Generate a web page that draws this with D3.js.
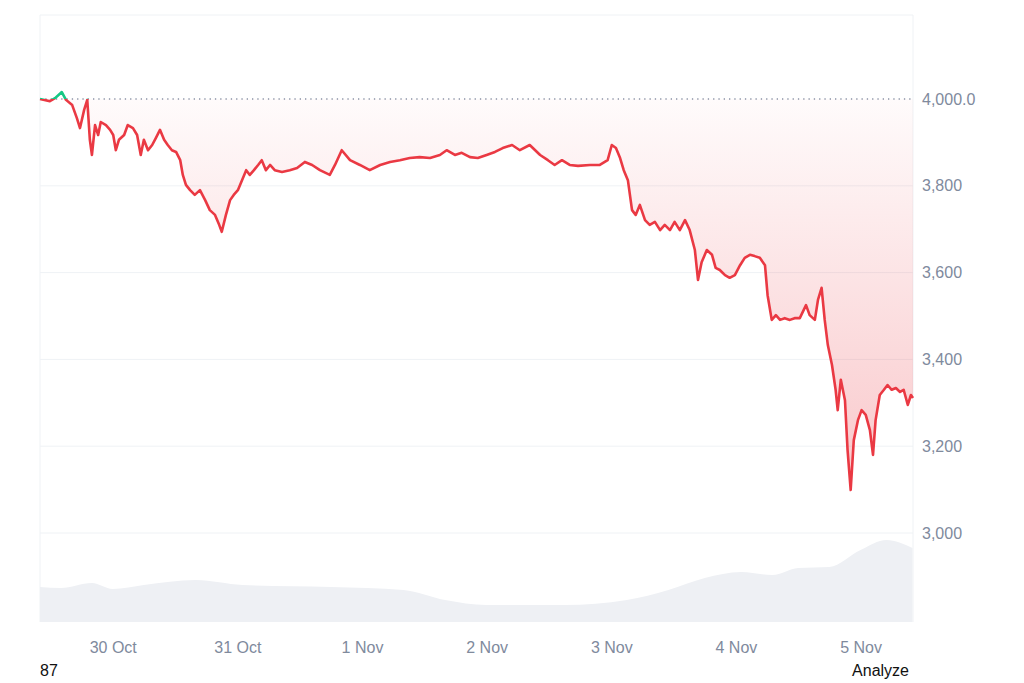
<!DOCTYPE html>
<html>
<head>
<meta charset="utf-8">
<script src="https://cdn.jsdelivr.net/npm/d3@7"></script>
<style>
  body { margin: 0; background: #fff; font-family: "Liberation Sans", Arial, sans-serif; }
</style>
</head>
<body>
<svg id="chart"></svg>
<script>
// hours since 29 Oct 10:00
const hours = [0,1.9,2.9,4.2,5.0,6.2,7.1,7.7,8.5,9.1,9.6,10.0,10.6,11.2,11.7,12.7,13.5,14.1,14.6,15.2,16.2,16.9,17.9,18.7,19.4,20.0,20.8,21.6,22.3,23.1,23.9,24.6,25.4,26.2,27.0,27.5,28.1,28.9,29.8,30.8,31.8,32.7,33.7,34.5,35.0,35.8,36.6,37.3,38.1,38.9,39.7,40.4,41.2,42.0,42.7,43.5,44.3,45.2,46.6,48.1,49.5,51.0,52.4,53.9,55.8,56.8,58.1,59.7,61.6,63.5,65.5,67.4,69.3,71.2,73.1,75.1,77.0,78.3,79.9,81.2,82.8,84.3,86.0,87.6,89.1,90.9,92.4,94.3,96.3,97.8,99.1,100.5,102.0,103.6,105.9,107.8,109.3,110.1,110.9,111.7,112.4,113.2,114.0,114.7,115.5,116.5,117.4,118.4,119.4,120.3,121.3,122.2,123.2,124.2,125.1,126.1,126.7,127.4,128.4,129.4,130.1,130.9,131.9,132.8,133.8,134.8,135.7,136.7,137.6,138.6,139.6,140.1,140.9,141.7,142.5,143.4,144.4,145.3,146.3,147.5,148.2,149.2,149.8,150.5,151.1,151.7,152.5,153.2,153.6,154.2,155.0,155.5,156.1,156.7,157.5,158.2,159.0,159.8,160.4,160.9,161.7,162.5,163.2,164.0,164.8,165.6,166.3,167.1,167.7,168.1];
const prices = [4000,3995,4002,4016,3998,3986,3956,3933,3975,3998,3906,3871,3940,3917,3947,3940,3929,3917,3882,3906,3917,3940,3933,3917,3871,3906,3882,3894,3910,3929,3906,3894,3882,3878,3859,3825,3802,3790,3779,3790,3767,3744,3733,3710,3694,3733,3767,3779,3790,3813,3836,3825,3836,3848,3859,3836,3848,3836,3832,3836,3841,3855,3848,3836,3825,3848,3882,3859,3848,3836,3848,3855,3859,3864,3866,3864,3871,3882,3871,3876,3866,3864,3871,3878,3887,3894,3882,3894,3871,3859,3848,3859,3848,3846,3848,3848,3859,3894,3887,3864,3836,3813,3744,3733,3756,3721,3710,3717,3698,3710,3698,3717,3698,3721,3698,3652,3583,3624,3652,3641,3611,3606,3594,3588,3594,3617,3634,3641,3638,3634,3617,3548,3491,3502,3491,3495,3491,3495,3495,3525,3502,3491,3537,3565,3491,3433,3387,3330,3283,3353,3306,3191,3099,3214,3260,3283,3272,3237,3180,3260,3318,3330,3341,3330,3334,3325,3330,3295,3318,3311];
const volHours = [0,4,10,14,20,30,39,56,70,78,86,101,113,121,128,135,141,146,152,158,163,168];
const volumes = [35,34,39,33,37,42,37,35,32,22,17,17,22,32,44,50,47,54,55,72,82,74];
const yTicks = [3000,3200,3400,3600,3800,4000];
const baseline = 4000;

const W = 1024, H = 683;
const L = 40, R = 913, T = 15, B = 622;
const start = new Date(2024, 9, 29, 10);
const toDate = h => new Date(start.getTime() + h * 3600e3);
const font = '"Liberation Sans", Arial, sans-serif';

const svg = d3.select('#chart').attr('width', W).attr('height', H);

const x = d3.scaleTime().domain([start, toDate(168.1)]).range([L, R]);
const y = d3.scaleLinear().domain([3000, 4000]).range([533, 99]);
const yv = d3.scaleLinear().domain([0, 100]).range([B, B - 100]);

// grid
svg.append('g').selectAll('line').data(yTicks.filter(d => d !== baseline)).join('line')
  .attr('x1', L).attr('x2', R).attr('y1', d => y(d)).attr('y2', d => y(d))
  .attr('stroke', '#eff2f5');
svg.append('line').attr('x1', L).attr('x2', R).attr('y1', T).attr('y2', T).attr('stroke', '#eff2f5');
svg.append('line').attr('x1', L).attr('x2', L).attr('y1', T).attr('y2', B).attr('stroke', '#eff2f5');
svg.append('line').attr('x1', R).attr('x2', R).attr('y1', T).attr('y2', B).attr('stroke', '#eff2f5');

// volume
const vdata = volHours.map((h, i) => ({ t: toDate(h), v: volumes[i] }));
svg.append('path').datum(vdata)
  .attr('fill', '#eef0f4')
  .attr('d', d3.area().x(d => x(d.t)).y0(B).y1(d => yv(d.v)).curve(d3.curveMonotoneX));

const data = hours.map((h, i) => ({ t: toDate(h), p: prices[i] }));

// fill gradient between price and baseline
const defs = svg.append('defs');
const grad = defs.append('linearGradient').attr('id', 'redfill')
  .attr('gradientUnits', 'userSpaceOnUse').attr('x1', 0).attr('x2', 0)
  .attr('y1', y(4000)).attr('y2', y(3100));
grad.append('stop').attr('offset', '0%').attr('stop-color', '#ea3943').attr('stop-opacity', 0.02);
grad.append('stop').attr('offset', '100%').attr('stop-color', '#ea3943').attr('stop-opacity', 0.28);
svg.append('path').datum(data)
  .attr('fill', 'url(#redfill)')
  .attr('d', d3.area().x(d => x(d.t)).y0(y(baseline)).y1(d => y(Math.min(d.p, baseline))));

// baseline dotted
svg.append('line').attr('x1', L).attr('x2', R).attr('y1', y(baseline)).attr('y2', y(baseline))
  .attr('stroke', '#8a93a6').attr('stroke-width', 1.3).attr('stroke-dasharray', '1.3,4');

// price line, red below baseline, green above
defs.append('clipPath').attr('id', 'below').append('rect')
  .attr('x', 0).attr('y', y(baseline)).attr('width', W).attr('height', H);
defs.append('clipPath').attr('id', 'above').append('rect')
  .attr('x', 0).attr('y', 0).attr('width', W).attr('height', y(baseline));
const line = d3.line().x(d => x(d.t)).y(d => y(d.p));
svg.append('path').datum(data).attr('d', line).attr('fill', 'none')
  .attr('stroke', '#ea3943').attr('stroke-width', 2.6).attr('stroke-linejoin', 'round')
  .attr('clip-path', 'url(#below)');
svg.append('path').datum(data).attr('d', line).attr('fill', 'none')
  .attr('stroke', '#16c784').attr('stroke-width', 2.6).attr('stroke-linejoin', 'round')
  .attr('clip-path', 'url(#above)');

// y axis
const yAxis = svg.append('g').attr('transform', `translate(${R},0)`)
  .call(d3.axisRight(y).tickValues(yTicks).tickSize(0).tickPadding(9)
    .tickFormat(d => d === 4000 ? d3.format(',.1f')(d) : d3.format(',')(d)));
yAxis.select('.domain').remove();
yAxis.selectAll('text').attr('fill', '#808a9d').style('font-size', '16px').style('font-family', font);

// x axis
const days = d3.timeDay.range(d3.timeDay.ceil(start), toDate(168.1));
const xAxis = svg.append('g').attr('transform', `translate(0,${B})`)
  .call(d3.axisBottom(x).tickValues(days).tickSize(0).tickPadding(20).tickFormat(d3.timeFormat('%-d %b')));
xAxis.select('.domain').remove();
xAxis.selectAll('text').attr('fill', '#808a9d').style('font-size', '16px').style('font-family', font);

svg.append('text').attr('x', 40).attr('y', 676).text('87')
  .attr('fill', '#111').style('font-size', '16px').style('font-family', font);
svg.append('text').attr('x', 909).attr('y', 676).attr('text-anchor', 'end').text('Analyze')
  .attr('fill', '#111').style('font-size', '16px').style('font-family', font);
</script>
</body>
</html>
